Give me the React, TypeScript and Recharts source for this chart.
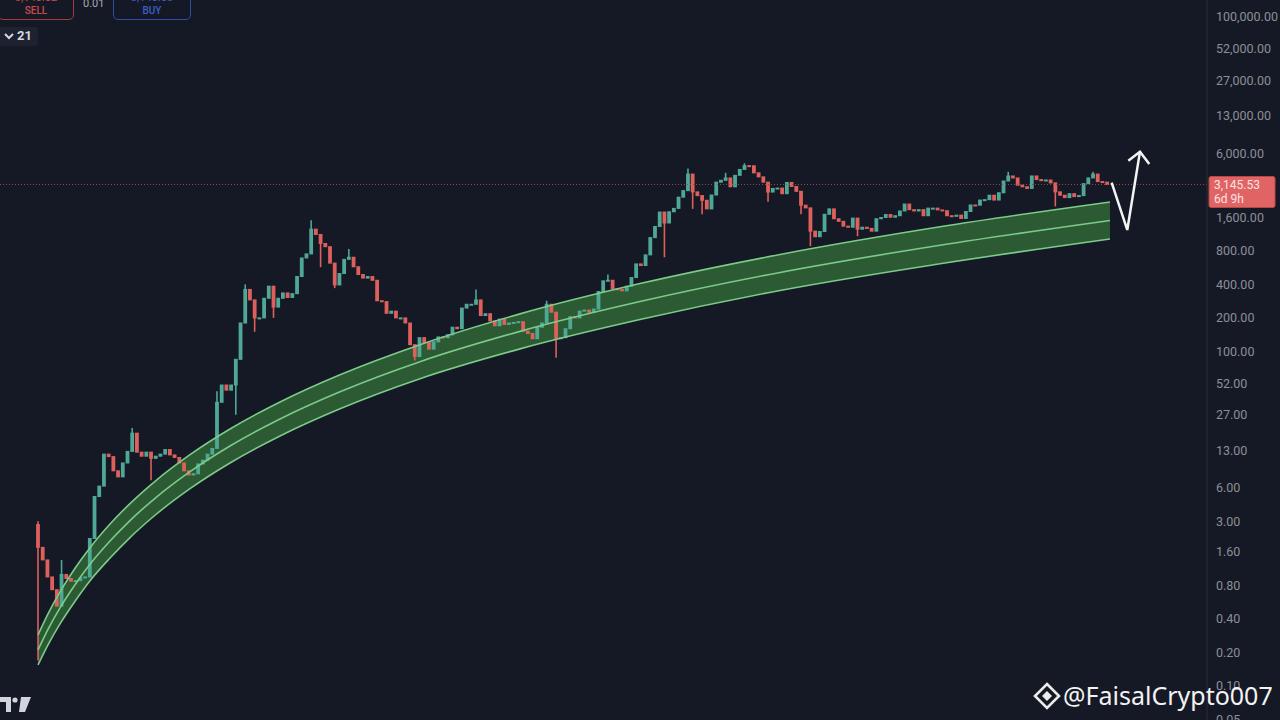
import { ComposedChart, Bar, Line, Area, XAxis, YAxis, ReferenceLine } from 'recharts';

// half-month candle closes, Aug 2015 -> Jan 2025 (ETH/USD)
const closes2015 = [1.75, 1.35, 0.95, 0.73, 0.52, 1.0, 0.92, 0.87, 0.88, 0.93];
const closes2016 = [0.95, 2.1, 5.0, 6.2, 12.0, 11.4, 8.5, 7.5, 10.0, 12.7, 18.5, 12.5, 11.5, 12.5, 11.0, 11.5, 12.0, 13.2, 11.8, 11.2, 10.0, 8.5, 7.8, 8.0];
const closes2017 = [9.8, 10.6, 12, 13.5, 35, 50, 45, 50, 85, 180, 360, 290, 200, 200, 300, 385, 250, 300, 335, 305, 330, 470, 690, 750];
const closes2018 = [1250, 1120, 930, 870, 620, 395, 500, 670, 700, 575, 490, 455, 470, 435, 285, 280, 220, 230, 200, 200, 180, 115, 90, 133];
const closes2019 = [120, 105, 122, 135, 133, 141, 165, 160, 245, 265, 265, 290, 210, 218, 188, 170, 195, 175, 180, 182, 185, 152, 145, 130];
const closes2020 = [165, 180, 265, 225, 130, 133, 160, 205, 200, 230, 235, 225, 240, 345, 430, 435, 365, 360, 350, 385, 460, 610, 590, 735];
const closes2021 = [1050, 1320, 1780, 1420, 1790, 1920, 2420, 2770, 3900, 2700, 2500, 2270, 1900, 2530, 3300, 3430, 3600, 3000, 3800, 4290, 4640, 4630, 4000, 3680];
const closes2022 = [3300, 2690, 2900, 2920, 2600, 3280, 3020, 2730, 2050, 1940, 1200, 1070, 1190, 1700, 1900, 1550, 1470, 1330, 1300, 1570, 1250, 1300, 1270, 1200];
const closes2023 = [1550, 1590, 1690, 1600, 1650, 1820, 2100, 1870, 1820, 1870, 1650, 1930, 1930, 1860, 1830, 1650, 1630, 1670, 1560, 1800, 2060, 2050, 2280, 2300];
const closes2024 = [2520, 2280, 2650, 3380, 3750, 3600, 3100, 3000, 2900, 3750, 3480, 3400, 3450, 3250, 2700, 2520, 2400, 2600, 2450, 2500, 3200, 3600, 3900, 3340];
const closes2025 = [3300, 3145.53];
const firstOpen = 2.8;

// long wicks visible on the chart: [candle index, price]
const wickHighs = [[0, 3.0], [5, 1.35], [20, 20.6], [38, 44], [44, 400], [58, 1500], [66, 830], [93, 360], [108, 285], [121, 490], [138, 4380], [146, 4000], [150, 4870], [206, 4090], [224, 4100]];
const wickLows = [[0, 0.17], [24, 7], [42, 27], [46, 150], [50, 200], [60, 570], [63, 370], [80, 83], [110, 88], [133, 700], [139, 1900], [141, 1700], [155, 2200], [162, 1700], [164, 880], [174, 1080], [216, 2000]];

// regression band, sampled along the candle index
const bandIdx = [0, 2.12, 4.67, 7.86, 11.04, 15.29, 19.53, 24.84, 32.27, 40.76, 51.38, 64.12, 81.1, 102.34, 127.81, 157.56, 191.53, 227.6];
const bandUpper = [0.2867, 0.4432, 0.698, 1.137, 1.736, 2.831, 4.324, 6.851, 11.87, 20.18, 35.25, 61.8, 115.1, 217.4, 406.4, 741.3, 1313, 2192];
const bandMid = [0.2103, 0.3218, 0.5017, 0.8085, 1.2346, 1.993, 3.043, 4.823, 8.357, 14.21, 24.82, 43.51, 81.02, 151.4, 280.2, 511.2, 896.2, 1496];
const bandLower = [0.1543, 0.2337, 0.3606, 0.5749, 0.878, 1.403, 2.142, 3.396, 5.883, 10.0, 17.47, 30.63, 57.03, 105.5, 193.2, 352.5, 611.7, 1021];

// hand-drawn arrow after the last candle
const arrowIdx = [227.96, 231.27, 233.97];
const arrowPrice = [3266, 1230, 6194];
const headIdx = [231.49, 233.97, 235.94];
const headPrice = [5143, 6194, 4806];

const priceTicks = [100000, 52000, 27000, 13000, 6000, 1600, 800, 400, 200, 100, 52, 27, 13, 6, 3, 1.6, 0.8, 0.4, 0.2, 0.1, 0.05];
const lastPrice = 3145.53;

const UP = '#4fa896';
const DOWN = '#dd605c';
const BG = '#151925';
const BODY_W = 3.8;

const closes = [
  ...closes2015, ...closes2016, ...closes2017, ...closes2018, ...closes2019,
  ...closes2020, ...closes2021, ...closes2022, ...closes2023, ...closes2024, ...closes2025,
];

const candles = closes.map((close, i) => {
  const open = i === 0 ? firstOpen : closes[i - 1];
  const wh = wickHighs.find(w => w[0] === i);
  const wl = wickLows.find(w => w[0] === i);
  const high = Math.max(open, close, wh ? wh[1] : 0);
  const low = Math.min(open, close, wl ? wl[1] : Infinity);
  return { i, open, close, high, low, range: [low, high] };
});

const band = bandIdx.map((i, k) => ({
  i,
  upper: bandUpper[k],
  mid: bandMid[k],
  lower: bandLower[k],
  range: [bandLower[k], bandUpper[k]],
}));

const arrow = arrowIdx.map((i, k) => ({ i, p: arrowPrice[k] }));
const arrowHead = headIdx.map((i, k) => ({ i, p: headPrice[k] }));

const fmt = (v: number) => v.toLocaleString('en-US', { minimumFractionDigits: 2, maximumFractionDigits: 2 });

const Candle = (props: any) => {
  const { x, y, width, height, payload } = props;
  if (x == null || y == null || !payload) return null;
  const top = Math.min(y, y + height);
  const bottom = Math.max(y, y + height);
  const { open, close, high, low } = payload;
  const span = Math.log(high) - Math.log(low);
  const toPx = (v: number) => (span > 0 ? top + ((Math.log(high) - Math.log(v)) / span) * (bottom - top) : top);
  const yo = toPx(open);
  const yc = toPx(close);
  const color = close >= open ? UP : DOWN;
  const cx = x + (width || 0) / 2;
  return (
    <g>
      <line x1={cx} x2={cx} y1={top} y2={bottom} stroke={color} strokeWidth={1.6} />
      <rect x={cx - BODY_W / 2} y={Math.min(yo, yc) - 0.5} width={BODY_W} height={Math.max(2, Math.abs(yc - yo) + 1)} fill={color} />
    </g>
  );
};

const PriceTag = (props: any) => {
  const vb = props.viewBox;
  if (!vb) return null;
  const x = vb.x + vb.width + 2;
  const y = vb.y;
  return (
    <g>
      <rect x={x} y={y - 8} width={66} height={31} rx={2} fill="#e06464" stroke="#b84848" strokeWidth={1} />
      <text x={x + 5} y={y + 5} fill="#fbe3e3" fontSize={12} fontFamily="Roboto, sans-serif">{fmt(lastPrice)}</text>
      <text x={x + 5} y={y + 19} fill="#fbe3e3" fontSize={12} fontFamily="Roboto, sans-serif">6d 9h</text>
    </g>
  );
};

export default function App() {
  return (
    <div style={{ position: 'absolute', left: 0, top: 0, width: 1280, height: 720, background: BG, overflow: 'hidden' }}>
      <ComposedChart width={1280} height={720} data={candles} margin={{ top: 0, right: 0, bottom: 0, left: 0 }}>
        <XAxis dataKey="i" type="number" domain={[-8.07, 248.2]} allowDataOverflow hide />
        <YAxis
          orientation="right"
          width={73}
          scale="log"
          domain={[0.0495, 142000]}
          allowDataOverflow
          ticks={priceTicks}
          interval={0}
          tickLine={false}
          tickMargin={3}
          axisLine={{ stroke: '#2a2e3a' }}
          tick={{ fill: '#8c8f98', fontSize: 12.5, fontFamily: 'Roboto, sans-serif' }}
          tickFormatter={fmt}
        />
        <Area data={band} dataKey="range" type="monotone" stroke="none" fill="#2c5b33" fillOpacity={1} isAnimationActive={false} />
        <Line data={band} dataKey="upper" type="monotone" stroke="#7ccb8b" strokeWidth={1.6} dot={false} isAnimationActive={false} />
        <Line data={band} dataKey="mid" type="monotone" stroke="#7ccb8b" strokeWidth={1.6} dot={false} isAnimationActive={false} />
        <Line data={band} dataKey="lower" type="monotone" stroke="#7ccb8b" strokeWidth={1.6} dot={false} isAnimationActive={false} />
        <ReferenceLine y={lastPrice} stroke="#9c4a52" strokeDasharray="1 2" strokeWidth={1} label={<PriceTag />} />
        <Bar dataKey="range" barSize={5} shape={<Candle />} isAnimationActive={false} />
        <Line data={arrow} dataKey="p" type="linear" stroke="#f4f4f4" strokeWidth={2.5} dot={false} isAnimationActive={false} />
        <Line data={arrowHead} dataKey="p" type="linear" stroke="#f4f4f4" strokeWidth={2.5} dot={false} isAnimationActive={false} />
      </ComposedChart>

      {/* order buttons, cut off at the top */}
      <div style={{ position: 'absolute', left: -2, top: -20, width: 74, height: 38, border: '1.5px solid #a63b3b', borderRadius: 5, fontFamily: 'Roboto, sans-serif', color: '#c94a4a', textAlign: 'center' }}>
        <div style={{ fontSize: 11, lineHeight: '14px', marginTop: 10 }}>3,145.52</div>
        <div style={{ fontSize: 10, lineHeight: '12px', fontWeight: 500 }}>SELL</div>
      </div>
      <div style={{ position: 'absolute', left: 83, top: -3, fontSize: 11, color: '#a7aab3', fontFamily: 'Roboto, sans-serif' }}>0.01</div>
      <div style={{ position: 'absolute', left: 113, top: -20, width: 76, height: 38, border: '1.5px solid #2d4ca3', borderRadius: 5, fontFamily: 'Roboto, sans-serif', color: '#3d5fcc', textAlign: 'center' }}>
        <div style={{ fontSize: 11, lineHeight: '14px', marginTop: 10 }}>3,145.53</div>
        <div style={{ fontSize: 10, lineHeight: '12px', fontWeight: 500 }}>BUY</div>
      </div>
      <div style={{ position: 'absolute', left: -4, top: 27, width: 42, height: 19, background: '#1d2130', borderRadius: 3, fontFamily: 'Roboto, sans-serif', color: '#d6d8de', fontSize: 13, fontWeight: 700 }}>
        <svg width={10} height={8} style={{ position: 'absolute', left: 8, top: 6 }}>
          <path d="M1 1 L5 5 L9 1" stroke="#d6d8de" strokeWidth={2} fill="none" />
        </svg>
        <span style={{ position: 'absolute', left: 21, top: 1 }}>21</span>
      </div>

      {/* TradingView mark */}
      <svg width={34} height={20} style={{ position: 'absolute', left: 0, top: 695 }}>
        <path d="M0 2 H11 V17 H6 V7 H0 Z" fill="#d1d4dc" />
        <circle cx={15} cy={5} r={2.6} fill="#d1d4dc" />
        <path d="M21 2 H31 L25 17 H19 Z" fill="#d1d4dc" />
      </svg>

      {/* watermark */}
      <svg width={30} height={30} style={{ position: 'absolute', left: 1032, top: 681 }}>
        <path d="M15 3 L27 15 L15 27 L3 15 Z" fill="none" stroke="#ececec" strokeWidth={2.6} />
        <path d="M15 10 L20 15 L15 20 L10 15 Z" fill="#ececec" />
      </svg>
      <div style={{ position: 'absolute', left: 1063, top: 678, fontSize: 25, color: '#f2f2f2', fontFamily: '"Noto Sans", sans-serif' }}>
        @FaisalCrypto007
      </div>
    </div>
  );
}
